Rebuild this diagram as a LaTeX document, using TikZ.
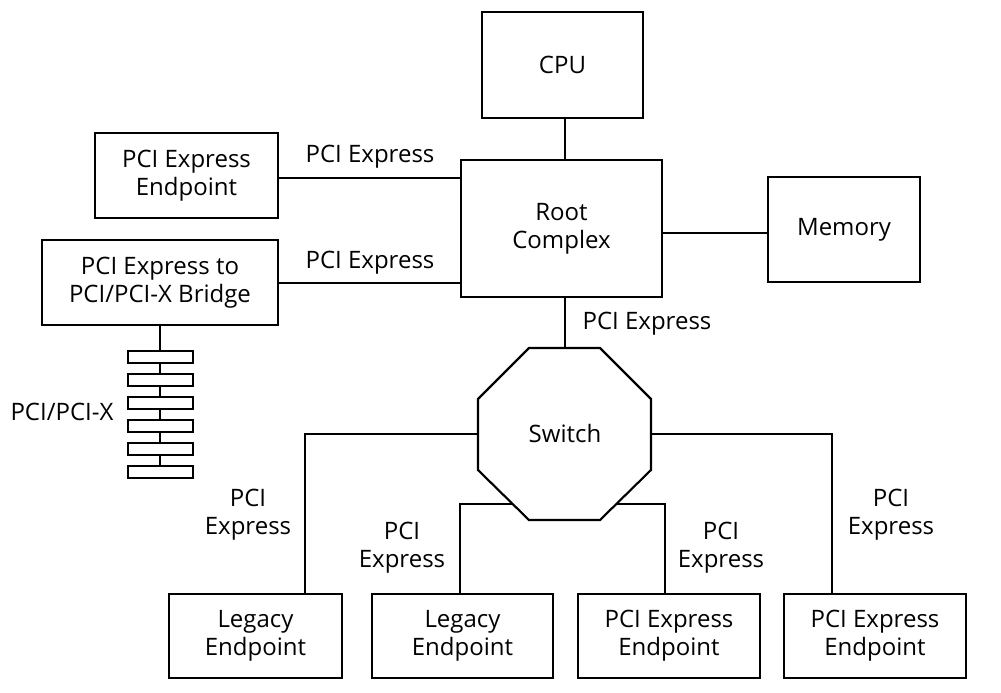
\documentclass[tikz,border=0pt]{standalone}
\usepackage{fontspec}
\setmainfont{Open Sans}
\begin{document}
\begin{tikzpicture}[x=0.75pt,y=-0.75pt,line width=1.6pt,
  box/.style={draw,thick,line width=1.6pt,align=center,font=\fontsize{18}{21}\selectfont},
  lbl/.style={align=center,font=\fontsize{18}{21}\selectfont,inner sep=0pt},
  bar/.style={draw,line width=1.2pt}]
\useasboundingbox (0,0) rectangle (1001,693);
\node[box,minimum width=161*0.75pt,minimum height=106*0.75pt] (cpu) at (562.5,65) {CPU};
\node[box,minimum width=183*0.75pt,minimum height=85*0.75pt] (ep) at (186.5,175.5) {PCI Express\\Endpoint};
\node[box,minimum width=201*0.75pt,minimum height=137*0.75pt] (rc) at (561.5,228.5) {Root\\Complex};
\node[box,minimum width=152*0.75pt,minimum height=105*0.75pt] (mem) at (844,229.5) {Memory};
\node[box,minimum width=236*0.75pt,minimum height=85*0.75pt] (br) at (160,282.5) {PCI Express to\\PCI/PCI-X Bridge};
\node[box,minimum width=173*0.75pt,minimum height=84*0.75pt] (l1) at (255.5,636) {Legacy\\Endpoint};
\node[box,minimum width=181*0.75pt,minimum height=84*0.75pt] (l2) at (462.5,636) {Legacy\\Endpoint};
\node[box,minimum width=182*0.75pt,minimum height=84*0.75pt] (e1) at (669,636) {PCI Express\\Endpoint};
\node[box,minimum width=182*0.75pt,minimum height=84*0.75pt] (e2) at (875,636) {PCI Express\\Endpoint};
% switch octagon
\draw (529,348) -- (600,348) -- (651,399) -- (651,470) -- (600,520) -- (529,520) -- (478,470) -- (478,399) -- cycle;
\node[lbl] (sw) at (565,433) {Switch};
\coordinate (swt) at (565,348);
\coordinate (swl) at (478,434);
\coordinate (swr) at (651,434);
\coordinate (swbl) at (513,504);
\coordinate (swbr) at (617,504);
% connectors
\draw (cpu.south -| 565,0) -- (rc.north -| 565,0);
\draw (ep.east |- 0,178) -- (rc.west |- 0,178);
\draw (br.east |- 0,283) -- (rc.west |- 0,283);
\draw (rc.east |- 0,233) -- (mem.west |- 0,233);
\draw (rc.south -| 565,0) -- (swt);
\draw (swl) -| (l1.north -| 305,0);
\draw (swr) -| (e2.north -| 832,0);
\draw (swbl) -| (l2.north -| 460,0);
\draw (swbr) -| (e1.north -| 665,0);
% PCI bus ladder
\coordinate (bus0) at (160,325);
\draw[line width=1.2pt] (bus0) -- (160,466);
\foreach \y in {351,374,397,420,443,466}
  \draw[bar,fill=white] (128,\y) rectangle (193,\y+12);
% labels
\node[lbl] at (370,157) {PCI Express};
\node[lbl] at (370,263) {PCI Express};
\node[lbl] at (647,324) {PCI Express};
\node[lbl] at (248,515) {PCI\\Express};
\node[lbl] at (402,548) {PCI\\Express};
\node[lbl] at (721,548) {PCI\\Express};
\node[lbl] at (891,515) {PCI\\Express};
\node[lbl] at (62,412) {PCI/PCI-X};
\end{tikzpicture}
\end{document}
